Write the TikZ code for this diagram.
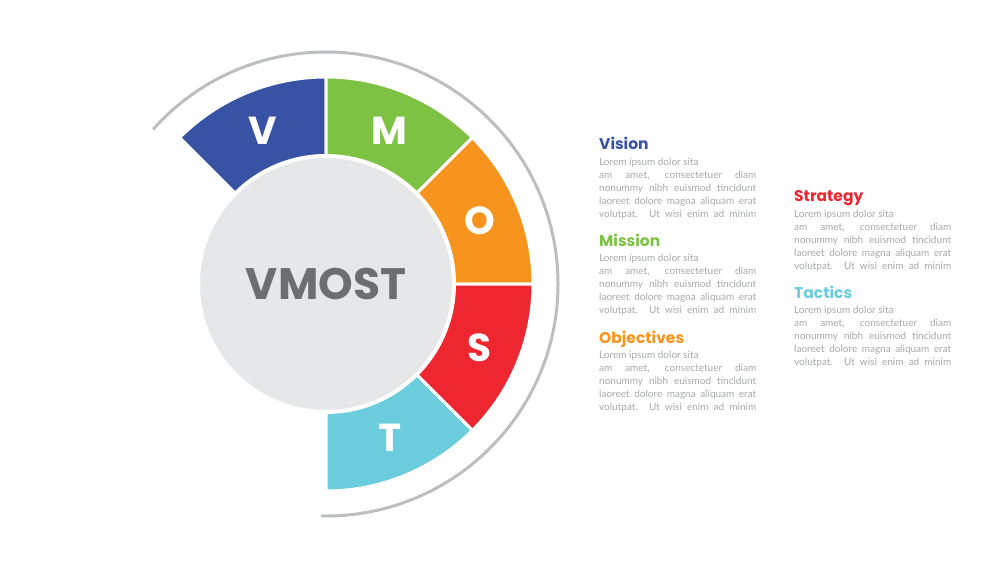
\documentclass[tikz,border=0pt]{standalone}
\usepackage{fontspec}
\setmainfont{Lato}
\newfontfamily\popfont{Poppins}
\usepackage{tikz}

\definecolor{vblue}{HTML}{3953A4}
\definecolor{mgreen}{HTML}{7DC242}
\definecolor{oorange}{HTML}{F7941D}
\definecolor{sred}{HTML}{ED2630}
\definecolor{tcyan}{HTML}{6BCCDD}
\definecolor{hubgray}{HTML}{E6E7E8}
\definecolor{arcgray}{HTML}{BCBEC0}
\definecolor{bodygray}{HTML}{A7A9AC}
\definecolor{hubtext}{HTML}{6D6E71}

\newcommand{\jl}[1]{\makebox[157pt][s]{#1}}
\newcommand{\loremtext}{Lorem ipsum dolor sita\\
  \jl{am amet, consectetuer diam}\\
  \jl{nonummy nibh euismod tincidunt}\\
  \jl{laoreet dolore magna aliquam erat}\\
  \jl{volutpat. Ut wisi enim ad minim}}

\tikzset{
  segline/.style={draw=white, line width=3pt},
  segletter/.style={text=white, font=\popfont\bfseries\fontsize{39}{39}\selectfont},
  headline/.style={anchor=base west, inner sep=0pt, font=\popfont\bfseries\fontsize{15.5}{15.5}\selectfont},
  bodytext/.style={anchor=north west, inner sep=0pt, align=left, text=bodygray,
    font=\fontsize{10}{12.9}\selectfont},
}

\begin{document}
\begin{tikzpicture}[x=1pt, y=1pt]
  \useasboundingbox (0,0) rectangle (1000,563);
  \fill[white] (0,0) rectangle (1000,563);
  \coordinate (hub) at (326,279);
  % ring of letters
  \begin{scope}[shift={(hub)}]
    \fill[vblue, segline] (90:120pt) -- (90:207pt) arc[start angle=90, end angle=135, radius=207pt] -- (135:120pt) arc[start angle=135, end angle=90, radius=120pt] -- cycle;
    \fill[mgreen, segline] (45:120pt) -- (45:207pt) arc[start angle=45, end angle=90, radius=207pt] -- (90:120pt) arc[start angle=90, end angle=45, radius=120pt] -- cycle;
    \fill[oorange, segline] (0:120pt) -- (0:207pt) arc[start angle=0, end angle=45, radius=207pt] -- (45:120pt) arc[start angle=45, end angle=0, radius=120pt] -- cycle;
    \fill[sred, segline] (-45:120pt) -- (-45:207pt) arc[start angle=-45, end angle=0, radius=207pt] -- (0:120pt) arc[start angle=0, end angle=-45, radius=120pt] -- cycle;
    \fill[tcyan, segline] (-90:120pt) -- (-90:207pt) arc[start angle=-90, end angle=-45, radius=207pt] -- (-45:120pt) arc[start angle=-45, end angle=-90, radius=120pt] -- cycle;
    \node[segletter] (lv) at (112.5:166pt) {V};
    \node[segletter] (lm) at (67.5:166pt) {M};
    \node[segletter] (lo) at (22.5:166pt) {O};
    \node[segletter] (ls) at (-22.5:166pt) {S};
    \node[segletter] (lt) at (-67.5:166pt) {T};
    % outer arc
    \draw[arcgray, line width=3pt, line cap=round] (138:232pt) arc[start angle=138, end angle=-91, radius=232pt];
  \end{scope}
  % hub
  \fill[hubgray, draw=white, line width=4pt] (hub) circle (128pt);
  \node[text=hubtext, font=\popfont\bfseries\fontsize{44}{44}\selectfont] (hublabel) at (hub) {VMOST};

  % left column
  \node[headline, text=vblue] (vision) at (599,413) {Vision};
  \node[bodytext] (visiontext) at (599,405) {\loremtext};
  \node[headline, text=mgreen] (mission) at (599,317) {Mission};
  \node[bodytext] (missiontext) at (599,309) {\loremtext};
  \node[headline, text=oorange] (objectives) at (599,220) {Objectives};
  \node[bodytext] (objectivestext) at (599,212) {\loremtext};
  % right column
  \node[headline, text=sred] (strategy) at (794,361) {Strategy};
  \node[bodytext] (strategytext) at (794,353) {\loremtext};
  \node[headline, text=tcyan] (tactics) at (794,265) {Tactics};
  \node[bodytext] (tacticstext) at (794,257) {\loremtext};
\end{tikzpicture}
\end{document}
